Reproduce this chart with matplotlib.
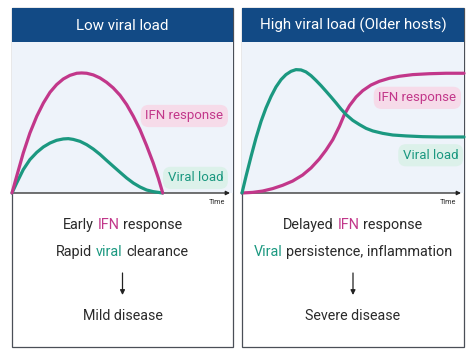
import matplotlib
matplotlib.use("Agg")
import matplotlib.pyplot as plt
from matplotlib.patches import Rectangle
from matplotlib.font_manager import FontProperties

plt.rcParams['font.family'] = ['Roboto', 'DejaVu Sans']

# curve data: time (0-100) vs level (0-100)
low_ifn_t = [0, 2.1, 5.1, 8.1, 11.2, 14.2, 17.2, 20.2, 23.2, 26.2, 29.3, 31.5, 33.8, 36.8,
             39.8, 42.8, 45.8, 48.9, 51.9, 54.9, 57.9, 60.9, 63.9, 66.2, 68.2]
low_ifn_v = [0, 11.0, 26.5, 39.7, 50.8, 59.6, 66.7, 71.8, 75.5, 77.9, 79.3, 79.5, 79.3, 78.2,
             76.2, 73.3, 69.6, 64.7, 58.5, 50.8, 42.0, 31.4, 19.9, 9.9, 0]
low_vir_t = [0, 2.1, 5.1, 8.1, 11.2, 14.2, 17.2, 20.2, 23.2, 25.5, 27.7, 30.8, 33.8, 36.8,
             39.8, 42.8, 45.8, 48.9, 51.9, 54.9, 57.9, 60.9, 63.9, 68.2]
low_vir_v = [0, 6.6, 15.5, 22.1, 26.9, 30.5, 33.1, 34.9, 35.8, 36.0, 35.5, 34.2, 32.0, 29.1,
             25.6, 21.6, 17.7, 13.7, 9.9, 6.6, 4.0, 2.0, 0.9, 0]

high_vir_t = [0, 1.8, 4.1, 6.3, 8.6, 10.8, 13.1, 15.3, 17.6, 19.8, 22.1, 24.3, 26.6, 28.8,
              31.1, 33.3, 35.6, 37.9, 40.1, 42.4, 44.6, 46.9, 49.9, 52.9, 55.9, 58.9, 63.4,
              67.9, 73.9, 81.4, 88.9, 100]
high_vir_v = [0, 11.0, 24.3, 36.4, 47.5, 56.3, 64.0, 70.2, 75.1, 78.4, 80.6, 81.7, 81.5, 80.2,
              77.7, 74.6, 71.1, 67.3, 63.6, 59.6, 55.6, 51.9, 48.1, 45.3, 42.8, 41.1, 39.5,
              38.4, 37.8, 37.3, 37.1, 37.1]
high_ifn_t = [0, 4.8, 9.3, 13.8, 18.3, 22.8, 27.3, 31.1, 34.8, 37.8, 40.9, 43.9, 46.1, 48.4,
              51.4, 54.4, 58.1, 61.9, 66.4, 70.9, 76.9, 84.4, 91.9, 100]
high_ifn_v = [0, 0.4, 1.3, 2.9, 5.1, 7.9, 11.9, 16.6, 22.5, 28.3, 35.3, 44.2, 51.9, 57.8,
              63.6, 67.8, 71.5, 74.0, 76.0, 77.3, 78.4, 79.0, 79.3, 79.3]

titles = ["Low viral load", "High viral load (Older hosts)"]
line1 = [[("Early ", "text"), ("IFN", "ifn"), (" response", "text")],
         [("Delayed ", "text"), ("IFN", "ifn"), (" response", "text")]]
line2 = [[("Rapid ", "text"), ("viral", "vir"), (" clearance", "text")],
         [("Viral", "vir"), (" persistence, inflammation", "text")]]
outcomes = ["Mild disease", "Severe disease"]

NAVY = "#124a85"
PLOT_BG = "#eef3fa"
MAGENTA = "#c2378a"
TEAL = "#1b9880"
TEXT = "#2a2a2a"
colors = {"text": TEXT, "ifn": MAGENTA, "vir": TEAL}

W, H = 474, 357
fig = plt.figure(figsize=(W / 100, H / 100), dpi=100)
bg = fig.add_axes([0, 0, 1, 1])
bg.set_xlim(0, W)
bg.set_ylim(H, 0)
bg.axis("off")

# panel geometry in pixels: (left, right)
panels = [(12, 233), (242, 464)]
top, head_bot, axis_y, bottom = 8, 42, 193, 347

renderer = fig.canvas.get_renderer()


def centered_line(cx, y, parts, size=10.4):
    prop = FontProperties(family=['Roboto', 'DejaVu Sans'], size=size)

    def width(s):
        return renderer.get_text_width_height_descent(s, prop, ismath=False)[0]

    full = "".join(s for s, _ in parts)
    x0 = cx - width(full) / 2
    prefix = ""
    for s, c in parts:
        seg = s.strip()
        lead = prefix + s[:len(s) - len(s.lstrip())]
        off = width(lead + seg) - width(seg) if lead else 0
        bg.text(x0 + off, y, seg, color=colors[c], fontproperties=prop,
                ha="left", va="center")
        prefix += s


for i, (l, r) in enumerate(panels):
    cx = (l + r) / 2
    bg.add_patch(Rectangle((l, top), r - l, bottom - top, facecolor="white",
                           edgecolor="#4a4f57", lw=0.9, zorder=1))
    bg.add_patch(Rectangle((l, head_bot), r - l, axis_y - head_bot,
                           facecolor=PLOT_BG, edgecolor="none", zorder=2))
    bg.add_patch(Rectangle((l, top), r - l, head_bot - top, facecolor=NAVY,
                           edgecolor="none", zorder=3))
    bg.text(cx, (top + head_bot) / 2 + 0.5, titles[i], color="white",
            fontsize=10.9, ha="center", va="center", zorder=4)
    bg.annotate("", xy=(r - 3, axis_y), xytext=(l, axis_y),
                arrowprops=dict(arrowstyle="-|>", color="#222222", lw=0.9,
                                mutation_scale=6, shrinkA=0, shrinkB=0),
                zorder=5)
    bg.text(r - 16, axis_y + 9, "Time", color=TEXT, fontsize=5.2,
            ha="center", va="center")

    centered_line(cx, 225, line1[i])
    centered_line(cx, 252, line2[i])
    bg.annotate("", xy=(cx, 295), xytext=(cx, 273),
                arrowprops=dict(arrowstyle="-|>", color="#222222", lw=0.9,
                                mutation_scale=7, shrinkA=0, shrinkB=0))
    bg.text(cx, 316, outcomes[i], color=TEXT, fontsize=10.3,
            ha="center", va="center")

curves = [
    [(low_vir_t, low_vir_v, TEAL), (low_ifn_t, low_ifn_v, MAGENTA)],
    [(high_ifn_t, high_ifn_v, MAGENTA), (high_vir_t, high_vir_v, TEAL)],
]
labels = [
    [("IFN response", 78, 51, MAGENTA, "#f6dbe9"), ("Viral load", 83, 10, TEAL, "#dcf1ea")],
    [("IFN response", 79, 63, MAGENTA, "#f6dbe9"), ("Viral load", 85, 25, TEAL, "#dcf1ea")],
]

for i, (l, r) in enumerate(panels):
    ax = fig.add_axes([l / W, (H - axis_y) / H, (r - l) / W, (axis_y - head_bot) / H])
    ax.set_xlim(0, 100)
    ax.set_ylim(0, 100)
    ax.axis("off")
    ax.patch.set_alpha(0)
    for t, v, c in curves[i]:
        ax.plot(t, v, color=c, lw=2.3, solid_capstyle="round",
                solid_joinstyle="round", clip_on=False)
    for s, x, y, c, fc in labels[i]:
        ax.text(x, y, s, color=c, fontsize=9.5, ha="center", va="center",
                bbox=dict(boxstyle="round,pad=0.35,rounding_size=0.6",
                          facecolor=fc, edgecolor="none"))

fig.savefig("out.png", dpi=100)
